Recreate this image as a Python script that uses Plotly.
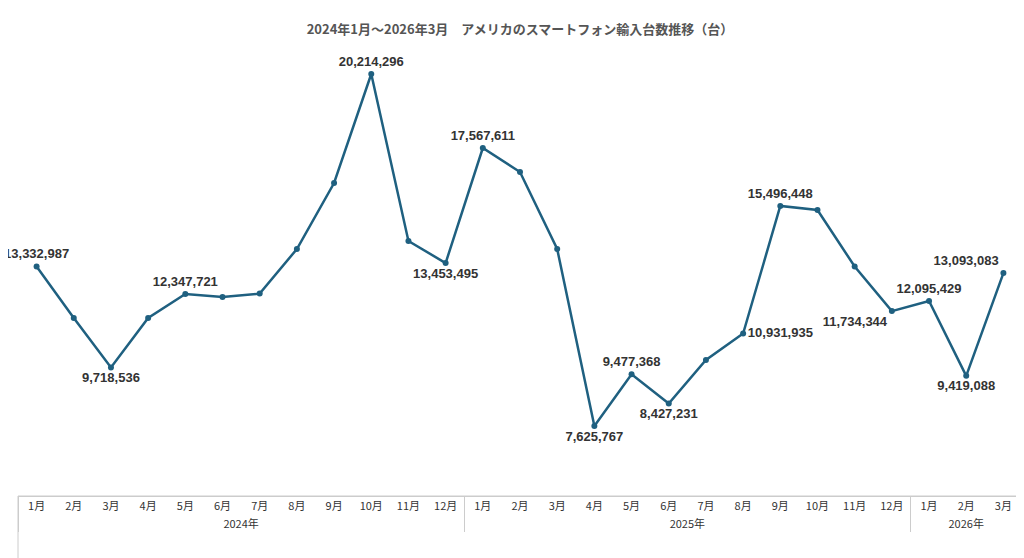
import plotly.graph_objects as go

years = ["2024年"]*12 + ["2025年"]*12 + ["2026年"]*3
months = [f"{m}月" for m in range(1, 13)]*2 + ["1月", "2月", "3月"]
values = [13332987, 11490000, 9718536, 11490000, 12347721, 12239000, 12360000, 13955000, 16316000, 20214296, 14242000, 13453495,
          17567611, 16709000, 13955000, 7625767, 9477368, 8427231, 9986000, 10931935, 15496448, 15350000, 13330000, 11734344,
          12095429, 9419088, 13093083]
labeled = {0: "top center", 2: "bottom center", 4: "top center", 9: "top center", 11: "bottom center",
           12: "top center", 15: "bottom center", 16: "top center", 17: "bottom center", 19: "middle right",
           20: "top center", 23: "bottom left", 24: "top center", 25: "bottom center", 26: "top left"}
texts = [f"<b>{v:,}</b>" if i in labeled else "" for i, v in enumerate(values)]
positions = [labeled.get(i, "top center") for i in range(len(values))]

fig = go.Figure(go.Scatter(
    x=[years, months], y=values, mode="lines+markers+text",
    line=dict(color="#1f6080", width=2.5), marker=dict(size=6, color="#1f6080"),
    text=texts, textposition=positions,
    textfont=dict(family="Liberation Sans, Arial", size=13, color="#333333"),
    cliponaxis=False))

fig.update_layout(
    width=1024, height=558, paper_bgcolor="white", plot_bgcolor="white",
    margin=dict(l=10, r=10, t=30, b=70),
    title=dict(text="<b>2024年1月～2026年3月　アメリカのスマートフォン輸入台数推移（台）</b>", x=0.5, y=0.97,
               font=dict(family="Noto Sans CJK JP", size=13, color="#555555")),
    showlegend=False,
    xaxis=dict(type="multicategory", range=[-0.5, 26.5], automargin=False, showline=True, linecolor="#cccccc",
               showdividers=True, dividercolor="#cccccc", dividerwidth=1, showgrid=False,
               tickfont=dict(family="Noto Sans CJK JP", size=11, color="#333333")),
    yaxis=dict(visible=False, range=[5122300, 21501800]),
    shapes=[dict(type="rect", xref="paper", yref="paper", x0=0, x1=1, y0=-66/458, y1=0,
                 line=dict(color="#cccccc", width=1))],
)
fig.write_html("out.html")
